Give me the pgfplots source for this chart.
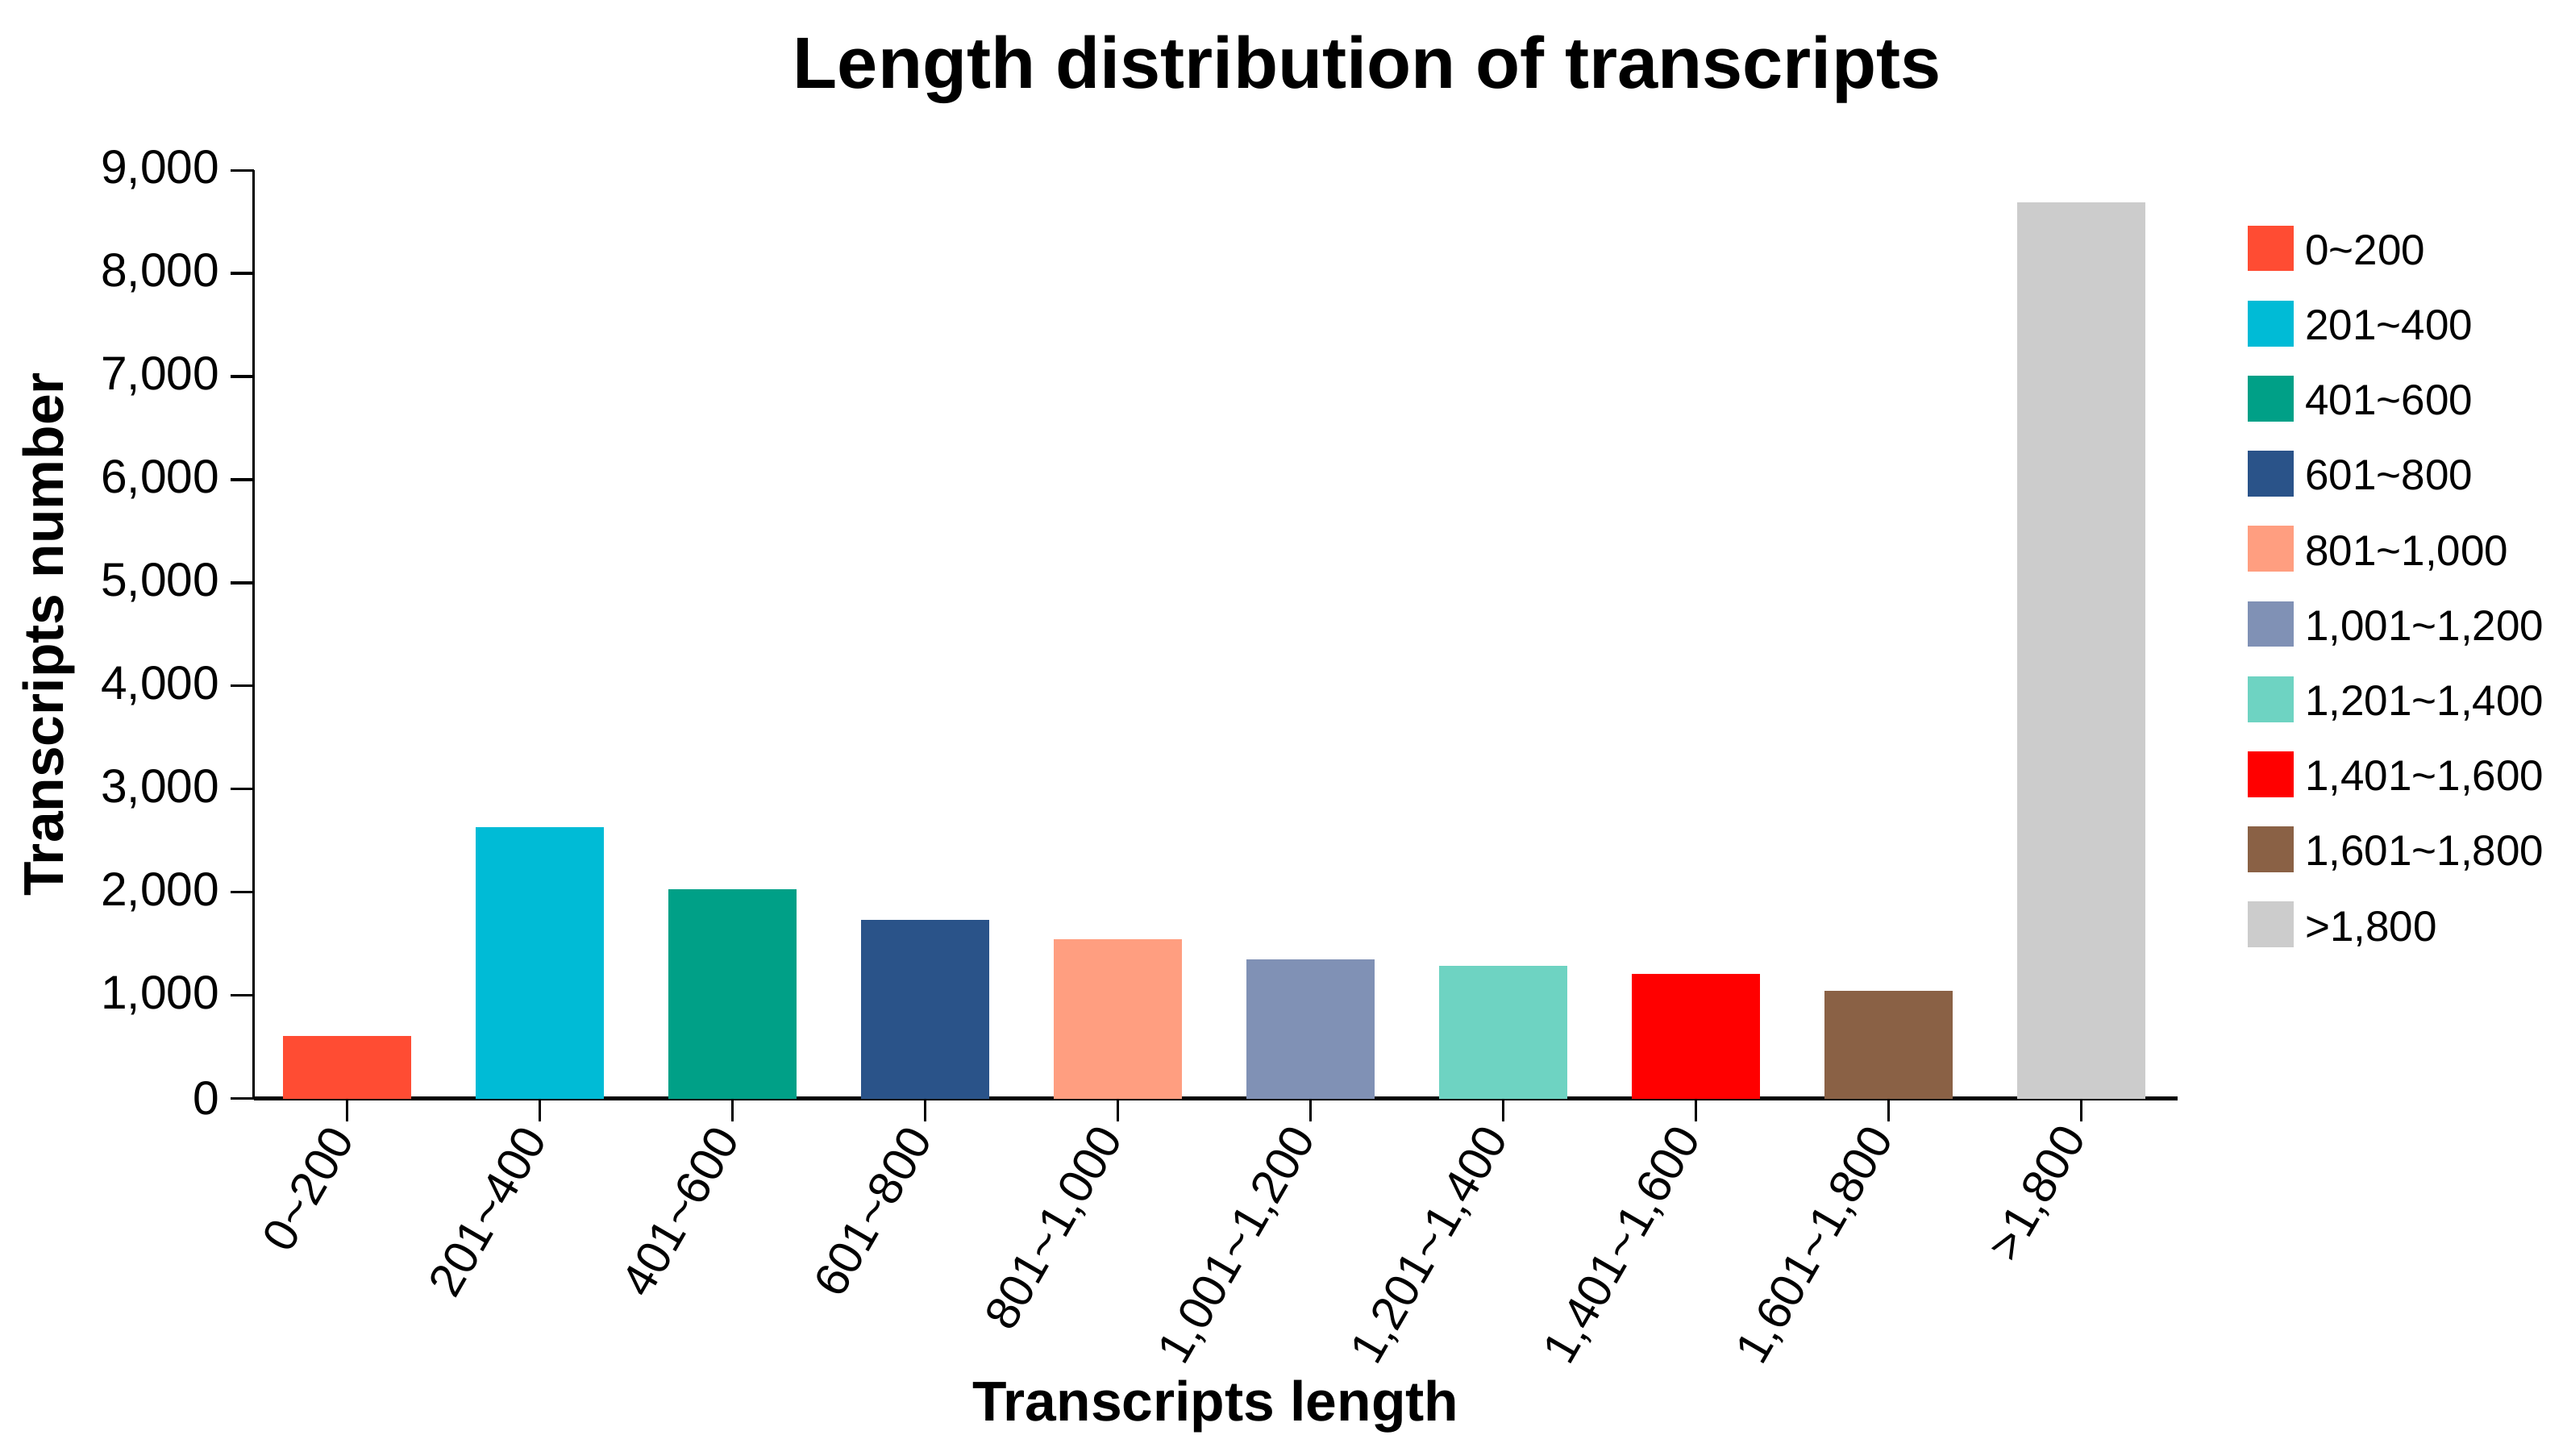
\documentclass[border=0pt]{standalone}
\usepackage{fontspec}
\setmainfont{Liberation Sans}
\usepackage{pgfplots}
\pgfplotsset{compat=1.18}
\definecolor{c1}{HTML}{FF4C33}
\definecolor{c2}{HTML}{00BBD6}
\definecolor{c3}{HTML}{00A087}
\definecolor{c4}{HTML}{2A5389}
\definecolor{c5}{HTML}{FF9E80}
\definecolor{c6}{HTML}{8091B5}
\definecolor{c7}{HTML}{6ED3C2}
\definecolor{c8}{HTML}{FF0000}
\definecolor{c9}{HTML}{8A6145}
\definecolor{c10}{HTML}{CCCCCC}
\pgfplotsset{mybar/.style={ybar, bar width=0.665, bar shift=0pt, draw=none, fill=#1,
  legend image code/.code={\fill[#1] (0bp,-6.65bp) rectangle (14bp,7.35bp);}}}
\newcommand{\tl}{\textasciitilde}
\begin{document}
\begin{tikzpicture}
\begin{axis}[
  width=587.5bp, height=283.5bp, scale only axis,
  xmin=-0.484, xmax=9.5, ymin=0, ymax=9000,
  axis x line*=bottom, axis y line*=left,
  axis line style={-},
  x axis line style={line width=1.2bp},
  y axis line style={line width=0.8bp},
  tick align=outside, major tick length=7bp,
  tick style={black, line width=0.8bp},
  xtick={0,...,9},
  xticklabels={0\tl200, 201\tl400, 401\tl600, 601\tl800, {801\tl1,000}, {1,001\tl1,200}, {1,201\tl1,400}, {1,401\tl1,600}, {1,601\tl1,800}, {>1,800}},
  ytick={0,1000,...,9000},
  scaled y ticks=false,
  /pgf/number format/assume math mode=true,
  yticklabel style={/pgf/number format/.cd, fixed, 1000 sep={,}},
  ticklabel style={font=\fontsize{14.5}{17}\selectfont},
  xticklabel style={rotate=60, anchor=east},
  title={Length distribution of transcripts},
  title style={font=\fontsize{22.3}{26}\selectfont\bfseries, at={(axis description cs:0.5787,1.067)}, anchor=base, yshift=0pt},
  xlabel={Transcripts length},
  xlabel style={font=\fontsize{17.2}{20}\selectfont\bfseries, at={(axis description cs:0.5,-0.3474)}, anchor=base},
  ylabel={Transcripts number},
  ylabel style={font=\fontsize{17.2}{20}\selectfont\bfseries, at={(axis description cs:-0.0990,0.5)}, anchor=base, rotate=0},
  legend style={draw=none, fill=none, at={(axis description cs:1.0366,0.9406)}, anchor=north west,
    inner sep=0pt, outer sep=0pt, row sep=8.6bp, column sep=3.5bp,
    font=\fontsize{13.1}{15}\selectfont,
    nodes={inner sep=0pt, outer sep=0pt, text height=11.65bp, text depth=2.35bp}},
  legend cell align=left,
]
\addplot[mybar=c1] coordinates {(0,605)};
\addlegendentry{0\tl200}
\addplot[mybar=c2] coordinates {(1,2629)};
\addlegendentry{201\tl400}
\addplot[mybar=c3] coordinates {(2,2029)};
\addlegendentry{401\tl600}
\addplot[mybar=c4] coordinates {(3,1729)};
\addlegendentry{601\tl800}
\addplot[mybar=c5] coordinates {(4,1546)};
\addlegendentry{801\tl1,000}
\addplot[mybar=c6] coordinates {(5,1346)};
\addlegendentry{1,001\tl1,200}
\addplot[mybar=c7] coordinates {(6,1283)};
\addlegendentry{1,201\tl1,400}
\addplot[mybar=c8] coordinates {(7,1205)};
\addlegendentry{1,401\tl1,600}
\addplot[mybar=c9] coordinates {(8,1040)};
\addlegendentry{1,601\tl1,800}
\addplot[mybar=c10] coordinates {(9,8690)};
\addlegendentry{>1,800}
\end{axis}
\pgfresetboundingbox
\useasboundingbox (-77.5bp,-108.95bp) rectangle (706.5bp,335.5bp);
\end{tikzpicture}
\end{document}
